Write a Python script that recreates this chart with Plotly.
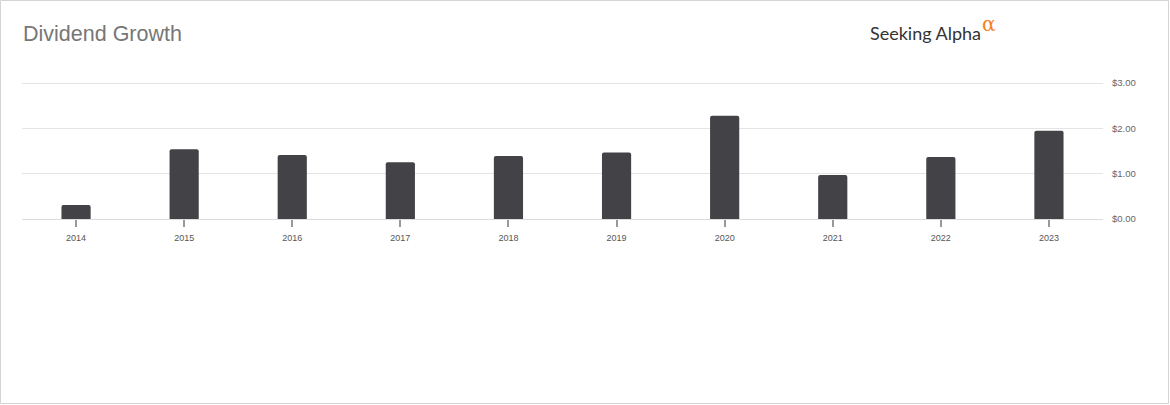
import plotly.graph_objects as go

# dividend per share by year
years = ['2014', '2015', '2016', '2017', '2018', '2019', '2020', '2021', '2022', '2023']
dividends = [0.31, 1.54, 1.41, 1.25, 1.39, 1.47, 2.28, 0.97, 1.37, 1.95]
y_ticks = [0, 1, 2, 3]
y_tick_labels = ['$0.00', '$1.00', '$2.00', '$3.00']

W, H = 1170, 405
L, R, T, B = 22, 67, 81, 186
pw, ph = W - L - R, H - T - B


def px_x(x):
    return (x - L) / pw


def px_y(y):
    return (H - B - y) / ph


fig = go.Figure()
fig.add_trace(go.Bar(x=years, y=dividends, width=0.27,
                     marker=dict(color='#434246', cornerradius=2,
                                 line=dict(width=0)),
                     hovertemplate='%{x}: $%{y:.2f}<extra></extra>'))

fig.update_layout(
    width=W, height=H,
    margin=dict(l=L, r=R, t=T, b=B),
    paper_bgcolor='white', plot_bgcolor='white',
    font=dict(family='Liberation Sans, Arial, sans-serif', color='#555'),
    showlegend=False,
)
fig.update_xaxes(type='category', showgrid=False, ticks='outside',
                 ticklen=7, tickwidth=1.5, tickcolor='#999',
                 ticklabelstandoff=3,
                 tickfont=dict(size=9, color='#555'),
                 showline=False, zeroline=False, fixedrange=True)
# range a bit above 3 so the $3.00 gridline is drawn
fig.update_yaxes(side='right', range=[0, 3.045], tickvals=y_ticks,
                 ticktext=y_tick_labels, showgrid=True, gridcolor='#e4e4e4',
                 gridwidth=1, zeroline=True, zerolinecolor='#dcdcdc',
                 zerolinewidth=1, ticks='', ticklabelstandoff=8,
                 tickfont=dict(size=9.5, color='#666'), fixedrange=True)

# title and logo
fig.add_annotation(text='Dividend Growth', xref='paper', yref='paper',
                   x=px_x(21), y=px_y(34), xanchor='left', yanchor='middle',
                   showarrow=False,
                   font=dict(size=21.5, color='#777',
                             family='Liberation Sans, Arial, sans-serif'))
fig.add_annotation(text='Seeking Alpha', xref='paper', yref='paper',
                   x=px_x(868), y=px_y(33), xanchor='left', yanchor='middle',
                   showarrow=False,
                   font=dict(size=18, color='#333', family='Lato, sans-serif'))
fig.add_annotation(text='α', xref='paper', yref='paper',
                   x=px_x(980), y=px_y(24), xanchor='left', yanchor='middle',
                   showarrow=False,
                   font=dict(size=20, color='#f5821f',
                             family='DejaVu Serif, serif'))

# outer frame
fig.add_shape(type='rect', xref='paper', yref='paper',
              x0=px_x(0.5), x1=px_x(W - 1.5), y0=px_y(0.5), y1=px_y(H - 1.5),
              line=dict(color='#d4d4d4', width=1), layer='below')

fig.write_html('out.html', config={'displayModeBar': False},
               post_script="document.body.style.margin='0';")
